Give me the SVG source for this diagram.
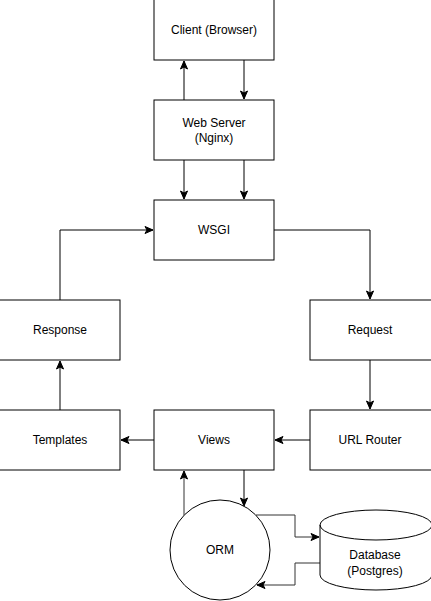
<svg xmlns="http://www.w3.org/2000/svg" width="431" height="601" viewBox="0 0 431 601">
<style>
.n{fill:#fff;stroke:#000;stroke-width:1}
.t{font-family:"Liberation Sans",Arial,sans-serif;font-size:12px;fill:#000;text-anchor:middle}
.e{fill:none;stroke:#000;stroke-width:1}
.g{stroke:#333}
</style>
<defs>
<marker id="a" markerUnits="userSpaceOnUse" markerWidth="10" markerHeight="10" viewBox="0 0 10 10" refX="9" refY="5" orient="auto">
<path d="M1,1.5 L9,5 L1,8.5 L3,5 Z" fill="#000" stroke="#000" stroke-width="1"/>
</marker>
</defs>
<rect width="431" height="601" fill="#fff"/>
<g id="connectors">
<path class="e" d="M184,100 V61" marker-end="url(#a)"/>
<path class="e" d="M244,60 V99" marker-end="url(#a)"/>
<path class="e" d="M184,160 V199" marker-end="url(#a)"/>
<path class="e" d="M244,160 V199" marker-end="url(#a)"/>
<path class="e" d="M274,230 H370 V299" marker-end="url(#a)"/>
<path class="e" d="M370,360 V409" marker-end="url(#a)"/>
<path class="e" d="M310,440 H275" marker-end="url(#a)"/>
<path class="e" d="M154,440 H121" marker-end="url(#a)"/>
<path class="e" d="M60,410 V361" marker-end="url(#a)"/>
<path class="e" d="M60,300 V230 H153" marker-end="url(#a)"/>
<path class="e" d="M244,470 V506" marker-end="url(#a)"/>
<path class="e g" d="M184,515 V471" marker-end="url(#a)"/>
<path class="e g" d="M256,515 H295 V537 H319" marker-end="url(#a)"/>
<path class="e g" d="M320,563 H295 V585 H257" marker-end="url(#a)"/>
</g>
<g id="client"><rect class="n" x="154" y="-2" width="120" height="62"/><text class="t" x="214" y="34">Client (Browser)</text></g>
<g id="webserver"><rect class="n" x="154" y="100" width="120" height="60"/><text class="t" x="214" y="127">Web Server</text><text class="t" x="214" y="142">(Nginx)</text></g>
<g id="wsgi"><rect class="n" x="154" y="200" width="120" height="60"/><text class="t" x="214" y="234">WSGI</text></g>
<g id="response"><rect class="n" x="-2" y="300" width="122" height="60"/><text class="t" x="60" y="334">Response</text></g>
<g id="request"><rect class="n" x="310" y="300" width="123" height="60"/><text class="t" x="370" y="334">Request</text></g>
<g id="templates"><rect class="n" x="-2" y="410" width="122" height="60"/><text class="t" x="60" y="444">Templates</text></g>
<g id="views"><rect class="n" x="154" y="410" width="120" height="60"/><text class="t" x="214" y="444">Views</text></g>
<g id="urlrouter"><rect class="n" x="310" y="410" width="123" height="60"/><text class="t" x="370" y="444">URL Router</text></g>
<g id="orm"><circle class="n" cx="220" cy="550" r="50"/><text class="t" x="220" y="554">ORM</text></g>
<g id="database"><path class="n" d="M320,525 A56,15 0 0 1 432,525 V575 A56,15 0 0 1 320,575 Z"/><path class="e" d="M320,525 A56,15 0 0 0 432,525"/><text class="t" x="375" y="559">Database</text><text class="t" x="375" y="575">(Postgres)</text></g>
</svg>
